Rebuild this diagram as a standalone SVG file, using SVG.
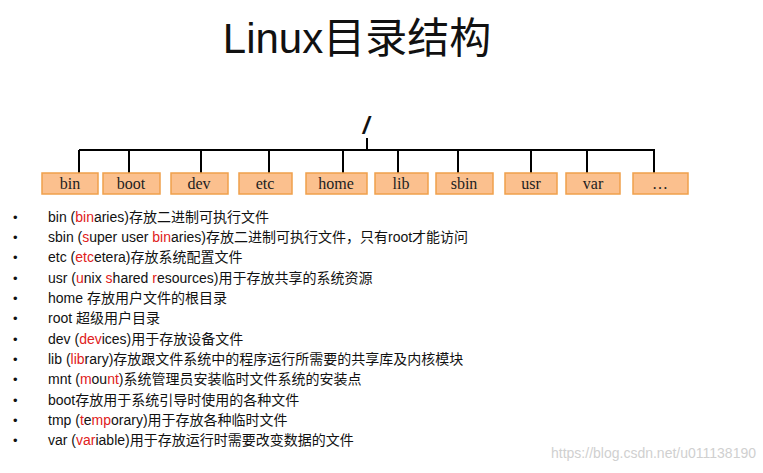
<svg xmlns="http://www.w3.org/2000/svg" width="763" height="473" viewBox="0 0 763 473">
<style>
.box{fill:#fbc08e;stroke:#f0a04b;stroke-width:1.5}
.bl{font-family:"Liberation Serif",serif;font-size:16px;text-anchor:middle;fill:#222}
.ln{stroke:#000;stroke-width:2;fill:none}
.t{font-family:"Liberation Sans","Noto Sans CJK SC",sans-serif;font-size:14px;fill:#111}
.r{fill:#e02020}
.dot{font-family:"Liberation Sans",sans-serif;font-size:13px;fill:#111}
</style>
<rect width="763" height="473" fill="#fff"/>
<text x="357" y="53" text-anchor="middle" font-family="'Liberation Sans','Noto Sans CJK SC',sans-serif" font-size="42" fill="#111">Linux目录结构</text>
<text x="366" y="134" text-anchor="middle" font-family="'Liberation Sans',sans-serif" font-size="24" font-style="italic" font-weight="bold" fill="#111">/</text>
<g id="connectors">
<path class="ln" d="M367 138V150M79 150H655M79 150V173M129 150V173M201 150V173M269 150V173M343 150V173M398 150V173M458 150V173M531 150V173M587 150V173M654 150V173"/>
</g>
<g id="bin"><rect class="box" x="42" y="173" width="56" height="21"/><text class="bl" x="70" y="189">bin</text></g>
<g id="boot"><rect class="box" x="103" y="173" width="57" height="21"/><text class="bl" x="131" y="189">boot</text></g>
<g id="dev"><rect class="box" x="171" y="173" width="57" height="21"/><text class="bl" x="199" y="189">dev</text></g>
<g id="etc"><rect class="box" x="239" y="173" width="53" height="21"/><text class="bl" x="265" y="189">etc</text></g>
<g id="home"><rect class="box" x="306" y="173" width="61" height="21"/><text class="bl" x="336" y="189">home</text></g>
<g id="lib"><rect class="box" x="375" y="173" width="53" height="21"/><text class="bl" x="401" y="189">lib</text></g>
<g id="sbin"><rect class="box" x="436" y="173" width="57" height="21"/><text class="bl" x="464" y="189">sbin</text></g>
<g id="usr"><rect class="box" x="505" y="173" width="52" height="21"/><text class="bl" x="531" y="189">usr</text></g>
<g id="var"><rect class="box" x="566" y="173" width="54" height="21"/><text class="bl" x="593" y="189">var</text></g>
<g id="more"><rect class="box" x="633" y="173" width="55" height="21"/><text class="bl" x="660" y="189">…</text></g>
<g id="list">
<g class="dot"><text x="13" y="222">•</text><text x="13" y="242">•</text><text x="13" y="262">•</text><text x="13" y="283">•</text><text x="13" y="303">•</text><text x="13" y="323">•</text><text x="13" y="344">•</text><text x="13" y="364">•</text><text x="13" y="384">•</text><text x="13" y="405">•</text><text x="13" y="425">•</text><text x="13" y="445">•</text></g>
<text class="t" x="48" y="222">bin (<tspan class="r">bin</tspan>aries)存放二进制可执行文件</text>
<text class="t" x="48" y="242">sbin (<tspan class="r">s</tspan>uper user <tspan class="r">bin</tspan>aries)存放二进制可执行文件，只有root才能访问</text>
<text class="t" x="48" y="262">etc (<tspan class="r">etc</tspan>etera)存放系统配置文件</text>
<text class="t" x="48" y="283">usr (<tspan class="r">u</tspan>nix <tspan class="r">s</tspan>hared <tspan class="r">r</tspan>esources)用于存放共享的系统资源</text>
<text class="t" x="48" y="303">home 存放用户文件的根目录</text>
<text class="t" x="48" y="323">root 超级用户目录</text>
<text class="t" x="48" y="344">dev (<tspan class="r">dev</tspan>ices)用于存放设备文件</text>
<text class="t" x="48" y="364">lib (<tspan class="r">lib</tspan>rary)存放跟文件系统中的程序运行所需要的共享库及内核模块</text>
<text class="t" x="48" y="384">mnt (<tspan class="r">m</tspan>ou<tspan class="r">nt</tspan>)系统管理员安装临时文件系统的安装点</text>
<text class="t" x="48" y="405">boot存放用于系统引导时使用的各种文件</text>
<text class="t" x="48" y="425">tmp (<tspan class="r">t</tspan>e<tspan class="r">m</tspan><tspan class="r">p</tspan>orary)用于存放各种临时文件</text>
<text class="t" x="48" y="445">var (<tspan class="r">var</tspan>iable)用于存放运行时需要改变数据的文件</text>
</g>
<text x="756" y="458" text-anchor="end" font-family="'Liberation Sans',sans-serif" font-size="14" fill="#d0d0d0">https://blog.csdn.net/u011138190</text>
</svg>
